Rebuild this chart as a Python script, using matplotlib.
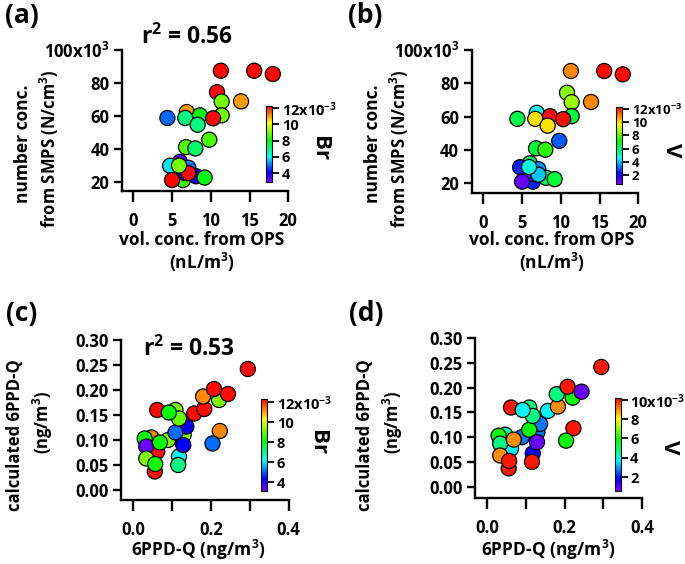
import matplotlib
matplotlib.use('Agg')
import matplotlib.pyplot as plt
from matplotlib.colors import LinearSegmentedColormap

plt.rcParams['font.family'] = ['Open Sans', 'DejaVu Sans']
plt.rcParams['font.weight'] = 'bold'
plt.rcParams['mathtext.fontset'] = 'custom'
plt.rcParams['mathtext.rm'] = 'Open Sans:bold'
plt.rcParams['mathtext.it'] = 'Open Sans:bold'
plt.rcParams['mathtext.bf'] = 'Open Sans:bold'

# top panels: vol. conc. from OPS vs number conc. from SMPS
vol_ops = [11.3, 15.6, 18.0, 10.8, 11.4, 13.9, 11.4, 6.9, 8.6, 10.3, 4.4, 6.7, 8.3,
           9.8, 6.8, 8.0, 6.0, 6.4, 8.1, 9.2, 6.5, 7.1, 7.1, 4.75, 5.9, 5.0]
num_smps = [87.4, 87.4, 85.4, 74.4, 68.7, 68.8, 60.3, 62.3, 60.3, 58.5, 58.7, 58.7, 54.6,
            45.5, 41.0, 40.2, 32.0, 21.0, 23.3, 22.5, 25.5, 28.5, 25.2, 29.7, 29.8, 21.0]
br_top = [12.2, 12.2, 12.2, 12.2, 9.0, 11.0, 9.0, 11.0, 8.0, 12.2, 4.9, 7.0, 7.0,
          8.7, 8.7, 7.2, 3.3, 8.5, 4.0, 8.0, 4.0, 5.0, 12.2, 5.8, 9.0, 12.2]
v_top = [10.9, 12.2, 12.2, 8.5, 8.7, 10.9, 6.5, 4.5, 12.2, 12.2, 6.3, 10.0, 10.0,
         3.0, 6.5, 7.5, 6.0, 2.5, 6.0, 6.5, 1.0, 3.5, 4.0, 2.5, 4.8, 1.0]

# bottom panels: measured vs calculated 6PPD-Q
ppdq = [0.047, 0.090, 0.130, 0.137, 0.062, 0.030, 0.034, 0.034, 0.056, 0.057, 0.069,
        0.118, 0.116, 0.109, 0.129, 0.062, 0.109, 0.118, 0.092, 0.157, 0.183, 0.180,
        0.221, 0.208, 0.244, 0.295, 0.223, 0.204]
ppdq_calc = [0.105, 0.100, 0.110, 0.127, 0.077, 0.103, 0.087, 0.063, 0.037, 0.052, 0.095,
             0.067, 0.050, 0.115, 0.090, 0.160, 0.160, 0.143, 0.155, 0.153, 0.162, 0.187,
             0.180, 0.202, 0.192, 0.242, 0.118, 0.093]
br_bot = [11.2, 9.2, 9.2, 4.3, 12.2, 8.2, 3.3, 9.2, 12.2, 8.2, 8.2,
          6.1, 7.1, 5.1, 4.3, 12.2, 9.2, 9.0, 8.2, 12.2, 12.2, 11.2,
          9.2, 12.2, 12.2, 12.2, 11.2, 5.1]
v_bot = [4.5, 2.7, 2.7, 2.7, 3.7, 5.9, 4.8, 9.0, 10.0, 10.0, 9.0,
         1.8, 10.0, 5.9, 0.8, 10.0, 4.8, 4.8, 3.7, 3.7, 9.0, 4.8,
         5.9, 10.0, 0.8, 10.0, 10.0, 5.9]

cmap = LinearSegmentedColormap.from_list('igor_rainbow', [
    (0.0, '#8000ff'), (0.13, '#0000ff'), (0.33, '#00ffff'),
    (0.55, '#00ff00'), (0.78, '#ffff00'), (1.0, '#ff0000')])

W, H = 685, 564
fig = plt.figure(figsize=(6.85, 5.64), dpi=100)


def box(l, t, r, b):
    return [l / W, 1 - b / H, (r - l) / W, (b - t) / H]


def txt(x, y, s, **kw):
    fig.text(x / W, 1 - y / H, s, **kw)


panels = [
    dict(ax=(122, 50, 288.3, 191), cax=(266, 106, 272, 182), x=vol_ops, y=num_smps, c=br_top,
         xlim=(-1.46, 20), ylim=(14.35, 100), crange=(2.9, 12.25),
         xt=[0, 5, 10, 15, 20], xl=['0', '5', '10', '15', '20'],
         yt=[20, 40, 60, 80, 100], yl=['20', '40', '60', '80', '100x10$^{3}$'],
         ct=[4, 6, 8, 10, 12], cname='Br', cpos=(320, 148)),
    dict(ax=(471.7, 50, 638.3, 193), cax=(616, 107, 622, 184), x=vol_ops, y=num_smps, c=v_top,
         xlim=(-1.5, 20), ylim=(14.2, 100), crange=(0.65, 12.3),
         xt=[0, 5, 10, 15, 20], xl=['0', '5', '10', '15', '20'],
         yt=[20, 40, 60, 80, 100], yl=['20', '40', '60', '80', '100x10$^{3}$'],
         ct=[2, 4, 6, 8, 10, 12], cname='V', cpos=(672, 150)),
    dict(ax=(121, 340, 288.7, 500), cax=(261, 399, 267, 491), x=ppdq, y=ppdq_calc, c=br_bot,
         xlim=(-0.031, 0.4), ylim=(-0.02, 0.30), crange=(3.1, 12.3),
         xt=[0, 0.1, 0.2, 0.3, 0.4], xl=['0.0', '', '0.2', '', '0.4'],
         yt=[0, 0.05, 0.10, 0.15, 0.20, 0.25, 0.30],
         yl=['0.00', '0.05', '0.10', '0.15', '0.20', '0.25', '0.30'],
         ct=[4, 6, 8, 10, 12], cname='Br', cpos=(318, 443)),
    dict(ax=(475, 338.3, 642, 498), cax=(615, 398, 620.5, 491), x=ppdq, y=ppdq_calc, c=v_bot,
         xlim=(-0.031, 0.4), ylim=(-0.023, 0.30), crange=(0.55, 10.2),
         xt=[0, 0.1, 0.2, 0.3, 0.4], xl=['0.0', '', '0.2', '', '0.4'],
         yt=[0, 0.05, 0.10, 0.15, 0.20, 0.25, 0.30],
         yl=['0.00', '0.05', '0.10', '0.15', '0.20', '0.25', '0.30'],
         ct=[2, 4, 6, 8, 10], cname='V', cpos=(670, 447)),
]

for p in panels:
    ax = fig.add_axes(box(*p['ax']))
    sc = ax.scatter(p['x'], p['y'], c=p['c'], cmap=cmap, vmin=p['crange'][0], vmax=p['crange'][1],
                    s=118, edgecolors='black', linewidths=0.9, clip_on=False, zorder=3)
    ax.set_xlim(*p['xlim'])
    ax.set_ylim(*p['ylim'])
    ax.patch.set_visible(False)
    for side in ['top', 'right']:
        ax.spines[side].set_visible(False)
    for side in ['left', 'bottom']:
        ax.spines[side].set_linewidth(1.7)
    ax.set_xticks(p['xt'])
    ax.set_xticklabels(p['xl'])
    ax.set_yticks(p['yt'])
    ax.set_yticklabels(p['yl'])
    ax.tick_params(axis='x', length=8, width=1.7, pad=7, labelsize=12)
    ax.tick_params(axis='y', length=6, width=1.7, pad=3, labelsize=12)

    cax = fig.add_axes(box(*p['cax']))
    cb = fig.colorbar(sc, cax=cax)
    cb.outline.set_linewidth(0.8)
    cb.set_ticks(p['ct'])
    labels = [str(t) for t in p['ct']]
    labels[-1] = labels[-1] + 'x10$^{-3}$'
    cb.set_ticklabels(labels)
    csize = 9.5 if len(p['ct']) > 5 else 10.5
    cax.tick_params(length=5, width=1.3, pad=2, labelsize=csize)
    txt(p['cpos'][0], p['cpos'][1], p['cname'], rotation=-90, fontsize=16,
        ha='center', va='center')

# panel tags and r^2 annotations
txt(22, 16, '(a)', fontsize=19, ha='center', va='center')
txt(365, 16, '(b)', fontsize=19, ha='center', va='center')
txt(22, 313, '(c)', fontsize=19, ha='center', va='center')
txt(366, 313, '(d)', fontsize=19, ha='center', va='center')
txt(187, 37, 'r$^{2}$ = 0.56', fontsize=16.5, ha='center', va='center')
txt(189, 349, 'r$^{2}$ = 0.53', fontsize=16.5, ha='center', va='center')

# axis titles
for x0 in (0, 350):
    txt(x0 + 23, 144, 'number conc.', rotation=90, fontsize=12.5, ha='center', va='center')
    txt(x0 + 49, 149, 'from SMPS (N/cm$^{3}$)', rotation=90, fontsize=12, ha='center', va='center')
    txt(x0 + 202, 240, 'vol. conc. from OPS', fontsize=12.5, ha='center', va='center')
    txt(x0 + 202, 262, '(nL/m$^{3}$)', fontsize=12.5, ha='center', va='center')
    txt(x0 + 15, 435, 'calculated 6PPD-Q', rotation=90, fontsize=12, ha='center', va='center')
    txt(x0 + 43, 422, '(ng/m$^{3}$)', rotation=90, fontsize=12, ha='center', va='center')
    txt(x0 + 198, 550, '6PPD-Q (ng/m$^{3}$)', fontsize=12.5, ha='center', va='center')

fig.savefig('out.png', dpi=100)
